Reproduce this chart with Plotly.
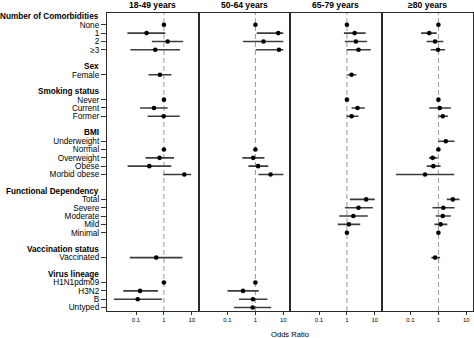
import plotly.graph_objects as go
from plotly.subplots import make_subplots

# ---------------- data ----------------
row_labels = ["Number of Comorbidities", "None", "1", "2", "≥3", "",
              "Sex", "Female", "",
              "Smoking status", "Never", "Current", "Former", "",
              "BMI", "Underweight", "Normal", "Overweight", "Obese", "Morbid obese", "",
              "Functional Dependency", "Total", "Severe", "Moderate", "Mild", "Minimal", "",
              "Vaccination status", "Vaccinated", "",
              "Virus lineage", "H1N1pdm09", "H3N2", "B", "Untyped"]
headers = ["Number of Comorbidities", "Sex", "Smoking status", "BMI",
           "Functional Dependency", "Vaccination status", "Virus lineage"]
items = ["None", "1", "2", "≥3", "Female", "Never", "Current", "Former",
         "Underweight", "Normal", "Overweight", "Obese", "Morbid obese",
         "Total", "Severe", "Moderate", "Mild", "Minimal", "Vaccinated",
         "H1N1pdm09", "H3N2", "B", "Untyped"]
panels = ["18-49 years", "50-64 years", "65-79 years", "≥80 years"]

N = None
or_1849 = [1, 0.24, 1.36, 0.49, 0.72, 1, 0.44, 0.98, N, 1, 0.70, 0.30, 5.4,
           N, N, N, N, N, 0.53, 1, 0.14, 0.115, N]
lo_1849 = [N, 0.049, 0.37, 0.063, 0.28, N, 0.14, 0.26, N, N, 0.22, 0.05, 0.95,
           N, N, N, N, N, 0.06, N, 0.035, 0.016, N]
hi_1849 = [N, 1.12, 4.9, 3.8, 1.84, N, 1.36, 3.7, N, N, 2.3, 1.84, 9.5,
           N, N, N, N, N, 4.6, N, 0.61, 0.85, N]

or_5064 = [1, 6.6, 1.95, 7.0, N, N, N, N, N, 1, 0.83, 1.25, 3.5,
           N, N, N, N, N, N, 1, 0.36, 0.82, 0.8]
lo_5064 = [N, 1.12, 0.36, 1.03, N, N, N, N, N, N, 0.34, 0.56, 1.28,
           N, N, N, N, N, N, N, 0.10, 0.26, 0.17]
hi_5064 = [N, 10, 10, 10, N, N, N, N, N, N, 2.1, 2.9, 10,
           N, N, N, N, N, N, N, 1.32, 2.7, 3.7]

or_6579 = [1, 1.9, 2.1, 2.6, 1.47, 1, 2.4, 1.47, N, N, N, N, N,
           4.9, 2.6, 1.7, 1.18, 1, N, N, N, N, N]
lo_6579 = [N, 0.78, 0.85, 0.97, 1.06, N, 1.47, 0.97, N, N, N, N, N,
           1.28, 0.85, 0.53, 0.47, N, N, N, N, N, N]
hi_6579 = [N, 4.7, 5.3, 7.2, 2.2, N, 4.4, 2.6, N, N, N, N, N,
           10, 8.5, 5.6, 3.0, N, N, N, N, N, N]

or_80 = [1, 0.47, 0.76, 0.97, N, 1, 1.12, 1.43, 1.84, 1, 0.62, 0.66, 0.33,
         3.3, 1.5, 1.43, 1.2, 1, 0.76, N, N, N, N]
lo_80 = [N, 0.24, 0.38, 0.53, N, N, 0.47, 1.0, 1.0, N, 0.46, 0.38, 0.03,
         2.0, 0.61, 0.8, 0.72, N, 0.56, N, N, N, N]
hi_80 = [N, 0.87, 1.5, 1.74, N, N, 2.8, 2.2, 3.8, N, 0.92, 1.2, 3.7,
         5.7, 3.8, 2.8, 2.1, N, 1.15, N, N, N, N]

panel_data = [(or_1849, lo_1849, hi_1849), (or_5064, lo_5064, hi_5064),
              (or_6579, lo_6579, hi_6579), (or_80, lo_80, hi_80)]
x_ticks = [0.1, 1, 10]
x_ticktext = ["0.1", "1", "10"]

# ---------------- figure ----------------
FONT = "Liberation Sans, Arial, sans-serif"
ypos = {lab: i for i, lab in enumerate(row_labels) if lab}

fig = make_subplots(rows=1, cols=4, shared_yaxes=True, horizontal_spacing=0)

for p, (ors, los, his) in enumerate(panel_data):
    col = p + 1
    lx, ly = [], []
    px, py = [], []
    for k, name in enumerate(items):
        y = ypos[name]
        if los[k] is not None and his[k] is not None:
            lx += [los[k], his[k], None]
            ly += [y, y, None]
        if ors[k] is not None:
            px.append(ors[k])
            py.append(y)
    fig.add_trace(go.Scatter(x=lx, y=ly, mode="lines",
                             line=dict(color="#3c3c3c", width=1.6),
                             hoverinfo="skip", showlegend=False), row=1, col=col)
    fig.add_trace(go.Scatter(x=px, y=py, mode="markers",
                             marker=dict(color="black", size=4.6),
                             showlegend=False), row=1, col=col)
    xname = "x" if col == 1 else f"x{col}"
    fig.add_shape(type="line", xref=xname, yref="paper", x0=1, x1=1, y0=0, y1=1,
                  line=dict(color="#9a9a9a", width=1, dash="5px,3px"), layer="below")
    fig.add_annotation(text=f"<b>{panels[p]}</b>", xref=f"{xname} domain", yref="paper",
                       x=0.5, y=1, yanchor="middle", yshift=8, showarrow=False,
                       font=dict(family=FONT, size=8.6, color="black"))

fig.update_xaxes(type="log", range=[-2.04, 1.24], tickvals=x_ticks, ticktext=x_ticktext,
                 ticks="outside", ticklen=3, tickwidth=1, tickcolor="#333",
                 tickfont=dict(family=FONT, size=6, color="black"),
                 showgrid=False, zeroline=False, showline=True, linecolor="#2a2a2a",
                 linewidth=1.3, mirror=True)

tick_vals = [ypos[n] for n in items]
fig.update_yaxes(range=[35.42, -0.42], showgrid=False, zeroline=False,
                 showline=True, linecolor="#2a2a2a", linewidth=1.3, mirror=True,
                 tickvals=tick_vals, ticktext=items, ticks="", showticklabels=False)
fig.update_yaxes(ticks="outside", ticklen=5, tickwidth=1, tickcolor="#333",
                 showticklabels=True, tickfont=dict(family=FONT, size=8.2, color="black"),
                 row=1, col=1)

for h in headers:
    fig.add_annotation(text=f"<b>{h}</b>", xref="paper", yref="y", x=0, y=ypos[h],
                       xanchor="right", yanchor="middle", xshift=-6, showarrow=False,
                       font=dict(family=FONT, size=8.2, color="black"))

fig.add_annotation(text="Odds Ratio", xref="paper", yref="paper", x=0.5, y=0,
                   yanchor="middle", yshift=-23, showarrow=False,
                   font=dict(family=FONT, size=7.6, color="black"))

fig.update_layout(width=474, height=338, margin=dict(l=107, r=1, t=13, b=27),
                  paper_bgcolor="white", plot_bgcolor="white",
                  font=dict(family=FONT, color="black"))

fig.write_html("out.html")
